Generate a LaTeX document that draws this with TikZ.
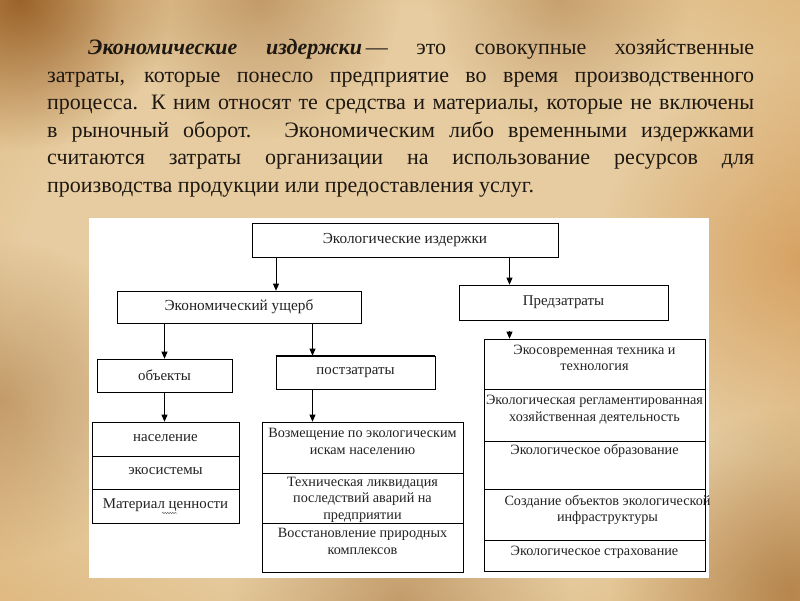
\documentclass[tikz,border=0pt]{standalone}
\usepackage{fontspec}
\setmainfont{Liberation Serif}
\usetikzlibrary{arrows.meta,decorations.pathmorphing,fadings}
\definecolor{bgin}{HTML}{E6CCA0}
\definecolor{bgmid}{HTML}{D8A762}
\definecolor{bgout}{HTML}{B06A24}
\definecolor{stain}{HTML}{84460E}
\definecolor{rust}{HTML}{C87A28}
\definecolor{ink}{HTML}{1E1812}
\definecolor{dtext}{HTML}{222222}
\pgfdeclareradialshading{parch}{\pgfpoint{0bp}{0bp}}{color(0bp)=(bgin); color(24bp)=(bgin); color(46bp)=(bgmid); color(62bp)=(bgout); color(71bp)=(bgout)}
\tikzfading[name=soft, inner color=transparent!0, outer color=transparent!100]
\begin{document}
\begin{tikzpicture}[x=1pt,y=-1pt,
  box/.style={draw=black, line width=0.7pt, fill=white, inner sep=0pt, text=dtext},
  bigf/.style={font=\fontsize{15.3}{17}\selectfont},
  cell/.style={draw=black, line width=0.7pt, fill=white, inner sep=0pt},
  lbl/.style={font=\fontsize{14.2}{16.5}\selectfont, text=dtext, align=center, inner sep=0pt},
  llbl/.style={font=\fontsize{14.9}{16.5}\selectfont, text=dtext, align=center, inner sep=0pt},
  arr/.style={-{Triangle[length=7pt,width=6pt]}, line width=0.7pt, draw=black},
  para/.style={font=\fontsize{22}{27.6}\selectfont, text=ink, align=justify, inner sep=0pt, text width=707pt},
  blot/.style={path fading=soft}
]
\useasboundingbox (0,0) rectangle (800,600);
% parchment background
\shade[shading=parch] (0,0) rectangle (800,600);
\fill[stain, opacity=0.75, blot] (20,0) circle (150);
\fill[stain, opacity=0.35, blot] (260,0) circle (140);
\fill[stain, opacity=0.3, blot] (560,0) circle (130);
\fill[rust, opacity=0.5, blot] (800,260) circle (200);
\fill[stain, opacity=0.45, blot] (790,590) circle (180);
\fill[stain, opacity=0.35, blot] (0,400) circle (160);
\fill[stain, opacity=0.35, blot] (400,600) circle (170);

% paragraph
\node[para, anchor=north west] (txt) at (47,39) {\setlength{\parindent}{41pt}\indent\textbf{\textit{Экономические издержки}}\,— это совокупные хозяйственные\linebreak затраты, которые понесло предприятие во время производственного\linebreak процесса. К ним относят те средства и материалы, которые не включены\linebreak в рыночный оборот. Экономическим либо временными издержками\linebreak считаются затраты организации на использование ресурсов для\linebreak производства продукции или предоставления услуг.};

% white panel
\fill[white] (89,218) rectangle (709,578);

% boxes
\node[box, bigf, minimum width=306pt, minimum height=34pt] (eco) at (405,240) {Экологические издержки};
\node[box, bigf, minimum width=244pt, minimum height=32pt] (ush) at (239,307) {Экономический ущерб};
\node[box, llbl, minimum width=209pt, minimum height=35pt] (pred) at (563.5,302.5) {Предзатраты};
\node[box, llbl, minimum width=135pt, minimum height=33pt] (obj) at (164.5,375.5) {объекты};
\node[box, llbl, minimum width=159pt, minimum height=33pt] (post) at (355.5,372.5) {постзатраты};
\draw[line width=1.6pt] (post.north west) -- (post.north east);

% left stack
\node[cell, minimum width=147pt, minimum height=34pt] (l1) at (165.5,439) {};
\node[cell, minimum width=147pt, minimum height=33pt] (l2) at (165.5,472.5) {};
\node[cell, minimum width=147pt, minimum height=34pt] (l3) at (165.5,506) {};
\node[llbl] (l1t) at (165.5,438) {население};
\node[llbl] (l2t) at (165.5,471.5) {экосистемы};
\node[llbl] (l3t) at (165.5,505) {Материал ценности};
\draw[black!55, line width=0.5pt, decorate, decoration={snake, amplitude=0.8pt, segment length=2.5pt}] (162,513) -- (177,513);

% middle stack
\node[cell, minimum width=201pt, minimum height=51pt] (m1) at (362.5,447.5) {};
\node[cell, minimum width=201pt, minimum height=50pt] (m2) at (362.5,498) {};
\node[cell, minimum width=201pt, minimum height=49pt] (m3) at (362.5,547.5) {};
\node[lbl, anchor=north] (m1t) at ([yshift=-6.5pt]m1.north) {Возмещение по экологическим\\искам населению};
\node[lbl, anchor=north] (m2t) at ([yshift=-4pt]m2.north) {Техническая ликвидация\\последствий аварий на\\предприятии};
\node[lbl, anchor=north] (m3t) at ([yshift=-5.5pt]m3.north) {Восстановление природных\\комплексов};

% right stack
\node[cell, minimum width=221pt, minimum height=50pt] (r1) at (594.5,364) {};
\node[cell, minimum width=221pt, minimum height=52pt] (r2) at (594.5,415) {};
\node[cell, minimum width=221pt, minimum height=48pt] (r3) at (594.5,465) {};
\node[cell, minimum width=221pt, minimum height=51pt] (r4) at (594.5,514.5) {};
\node[cell, minimum width=221pt, minimum height=31pt] (r5) at (594.5,555.5) {};
\node[lbl, anchor=north] (r1t) at ([yshift=-6pt]r1.north) {Экосовременная техника и\\технология};
\node[lbl, anchor=north] (r2t) at ([yshift=-6.5pt]r2.north) {Экологическая регламентированная\\хозяйственная деятельность};
\node[lbl, anchor=north] (r3t) at ([yshift=-3.5pt]r3.north) {Экологическое образование};
\node[lbl, anchor=north] (r4t) at ([xshift=13pt,yshift=-6pt]r4.north) {Создание объектов экологической\\инфраструктуры};
\node[lbl, anchor=north] (r5t) at ([yshift=-6pt]r5.north) {Экологическое страхование};

% arrow columns
\coordinate (xa) at (276,0);
\coordinate (xb) at (509.5,0);
\coordinate (xc) at (164.5,0);
\coordinate (xd) at (312.5,0);
\coordinate (xe) at (509.5,331);

\draw[arr] (xa |- eco.south) -- (xa |- ush.north);
\draw[arr] (xb |- eco.south) -- (xb |- pred.north);
\draw[arr] (xc |- ush.south) -- (xc |- obj.north);
\draw[arr] (xd |- ush.south) -- (xd |- post.north);
\draw[arr] (xc |- obj.south) -- (xc |- l1.north);
\draw[arr] (xd |- post.south) -- (xd |- m1.north);
\draw[arr] (xe) -- (xe |- r1.north);
\end{tikzpicture}
\end{document}
